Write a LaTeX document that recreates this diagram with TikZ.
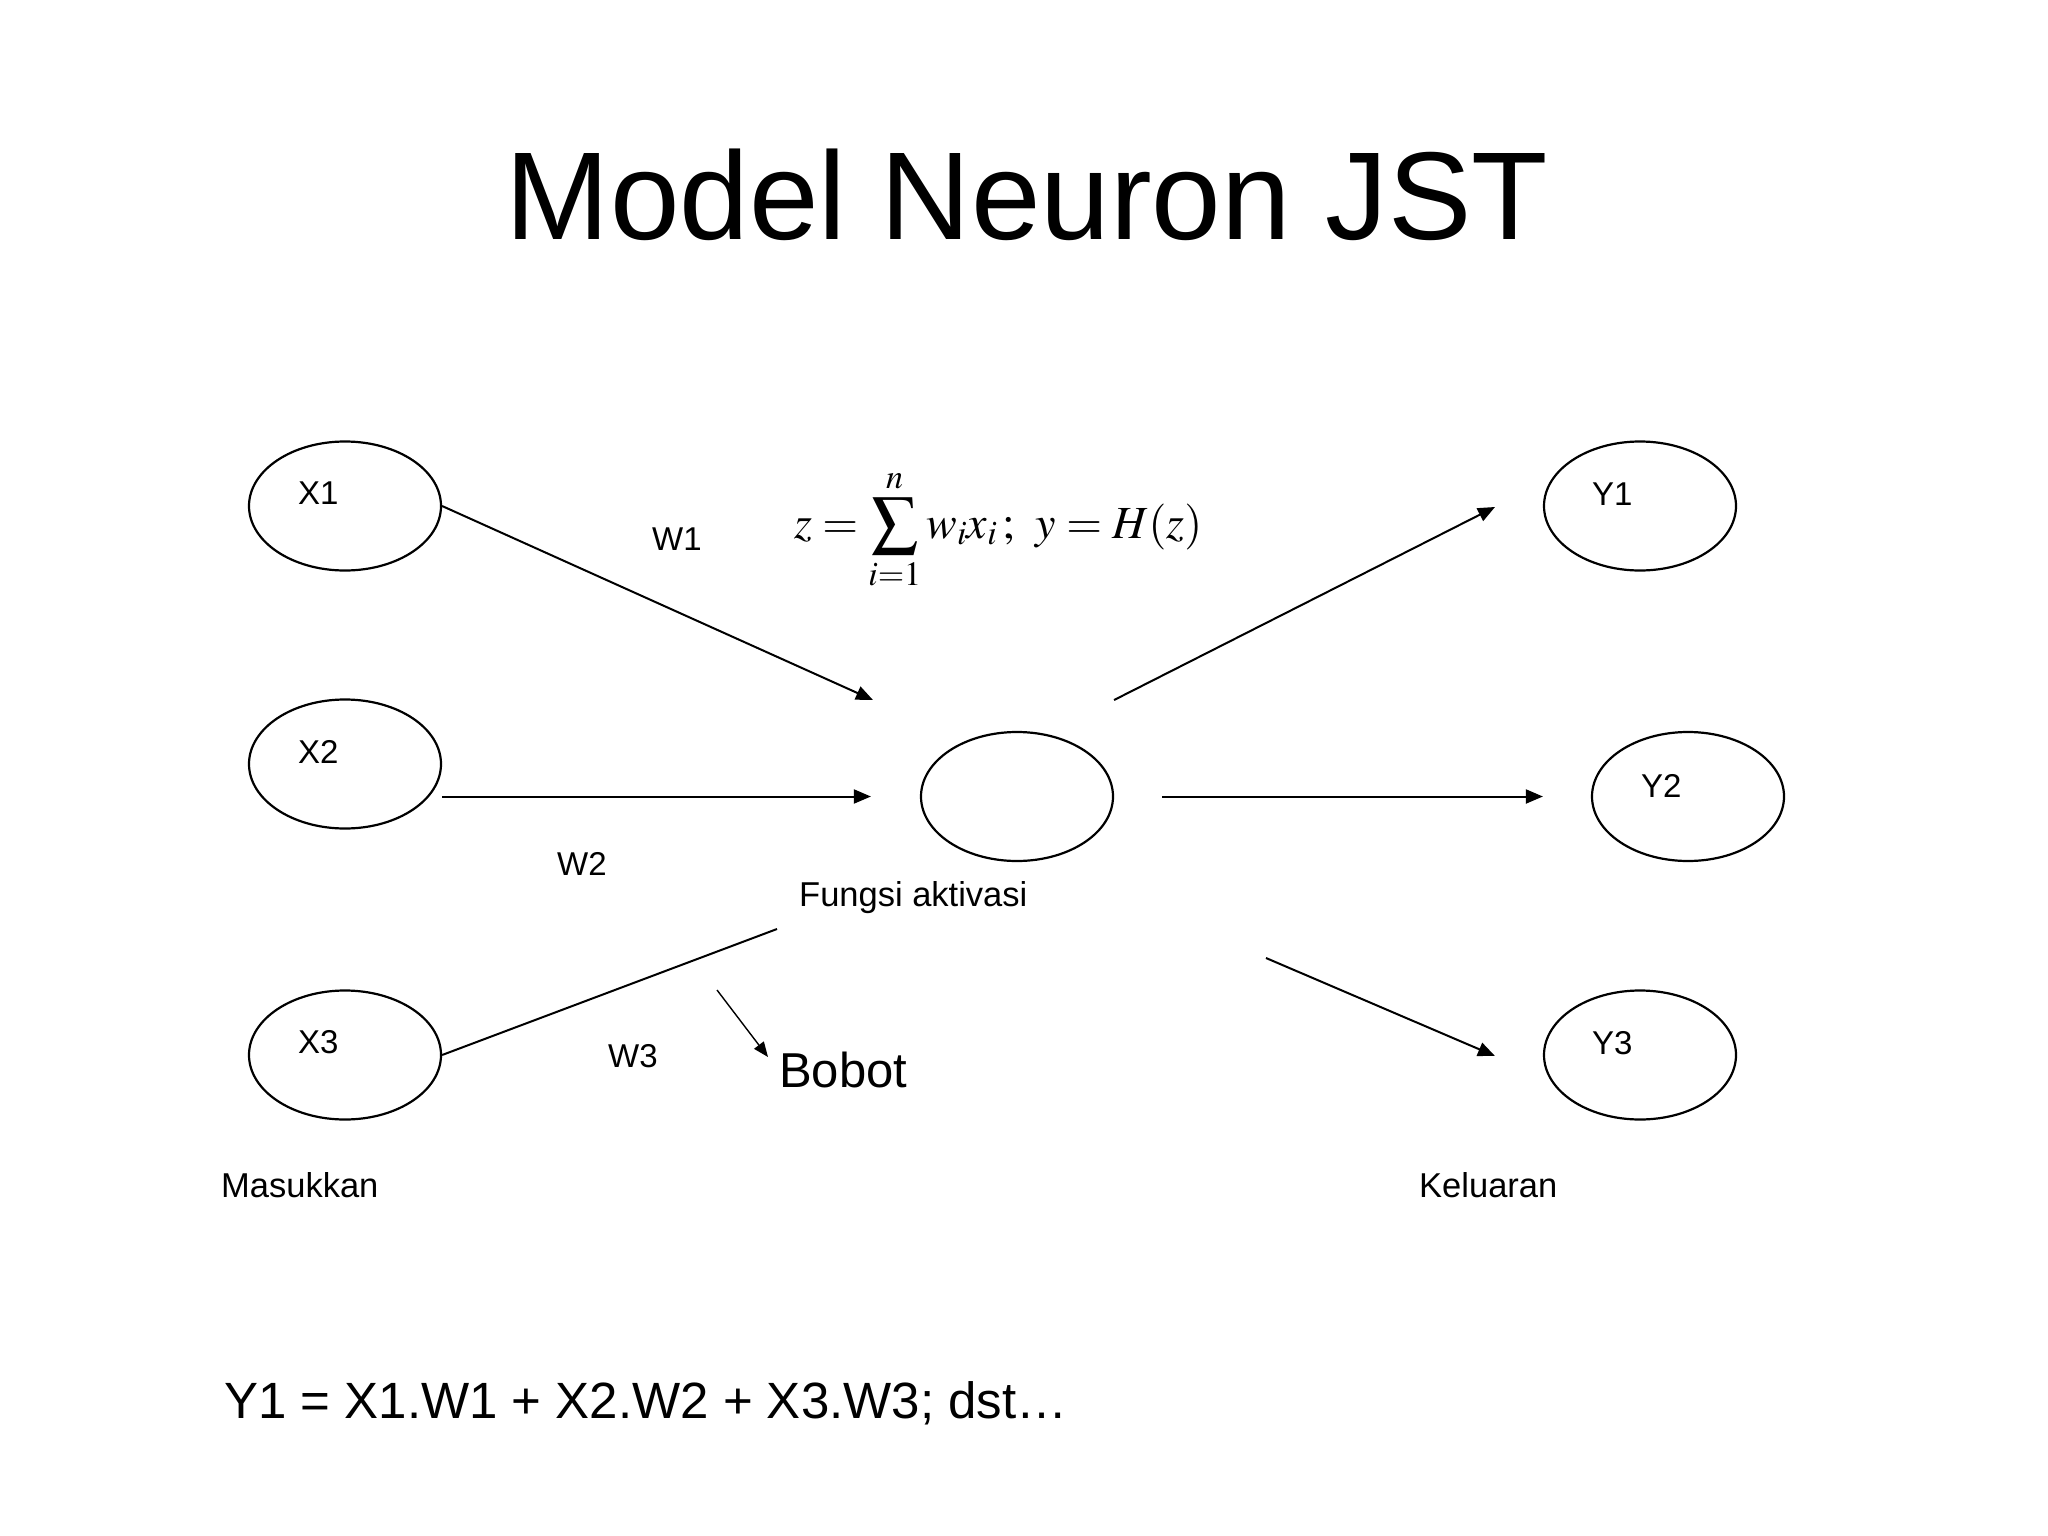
\documentclass[tikz,border=0pt]{standalone}
\usepackage{mathptmx}
\usepackage[no-math]{fontspec}
\setmainfont{Liberation Sans}
\usetikzlibrary{arrows.meta,shapes.geometric,calc}
\begin{document}
\begin{tikzpicture}[x=1pt,y=-1pt,
  neuron/.style={draw,line width=2.2pt,shape=ellipse,minimum width=192pt,minimum height=129pt,inner sep=0pt},
  lbl/.style={inner sep=0pt,anchor=base west,font=\fontsize{33}{38}\selectfont},
  biglbl/.style={inner sep=0pt,anchor=base west,font=\fontsize{34.5}{40}\selectfont},
  arr/.style={line width=2pt,-{Triangle[length=17pt,width=14pt]}},
  arrthin/.style={line width=1.4pt,-{Triangle[length=15pt,width=12pt]}},
  ln/.style={line width=2pt}]
\fill[white] (0,0) rectangle (2048,1536);
\useasboundingbox (0,0) rectangle (2048,1536);

% title
\node[inner sep=0pt,anchor=base,font=\fontsize{125}{140}\selectfont] (title) at (1027,239) {Model Neuron JST};

% neurons
\node[neuron] (x1) at (345,506) {};
\node[neuron] (x2) at (345,764) {};
\node[neuron] (x3) at (345,1055) {};
\node[neuron] (n) at (1017,796.5) {};
\node[neuron] (y1) at (1640,506) {};
\node[neuron] (y2) at (1688,796.5) {};
\node[neuron] (y3) at (1640,1055) {};

% labels
\node[lbl] (tx1) at (298,504) {X1};
\node[lbl] (tx2) at (298,763) {X2};
\node[lbl] (tx3) at (298,1053) {X3};
\node[lbl] (ty1) at (1592,505) {Y1};
\node[lbl] (ty2) at (1641,797) {Y2};
\node[lbl] (ty3) at (1592,1054) {Y3};
\node[lbl] (w1) at (652,550) {W1};
\node[lbl] (w2) at (557,875) {W2};
\node[lbl] (w3) at (608,1067) {W3};
\node[biglbl] (fa) at (799,906) {Fungsi aktivasi};
\node[biglbl] (masuk) at (221,1197) {Masukkan};
\node[biglbl] (keluar) at (1419,1197) {Keluaran};
\node[lbl,font=\fontsize{49}{58}\selectfont] (bobot) at (779,1087) {Bobot};
\node[lbl,font=\fontsize{51}{60}\selectfont] (eq) at (224,1418) {Y1 = X1.W1 + X2.W2 + X3.W3; dst…};
\node[inner sep=0pt,anchor=base west,font=\fontsize{46}{52}\selectfont] (formula) at (794,538)
  {$\displaystyle z=\sum_{i=1}^{n} w_i x_i\,;\;\, y=H(z)$};

% coordinates for free ends
\coordinate (a1) at (873,700);
\coordinate (a3) at (777,929);
\coordinate (b1e) at (1495,507);
\coordinate (c3s) at (1266,958);
\coordinate (c3e) at (1495,1056);
\coordinate (bs) at (717,990);
\coordinate (be) at (768,1057);

% connectors
\draw[arr] (x1.east) -- (a1);
\draw[arr,shorten >=49pt] (x2.east |- n.west) -- (n.west);
\draw[ln] (x3.east) -- (a3);
\draw[arr] (n.east |- a1) -- (b1e);
\draw[arr,shorten <=48pt,shorten >=48pt] (n.east) -- (y2.west);
\draw[arr] (c3s) -- (c3e);
\draw[arrthin] (bs) -- (be);
\end{tikzpicture}
\end{document}
